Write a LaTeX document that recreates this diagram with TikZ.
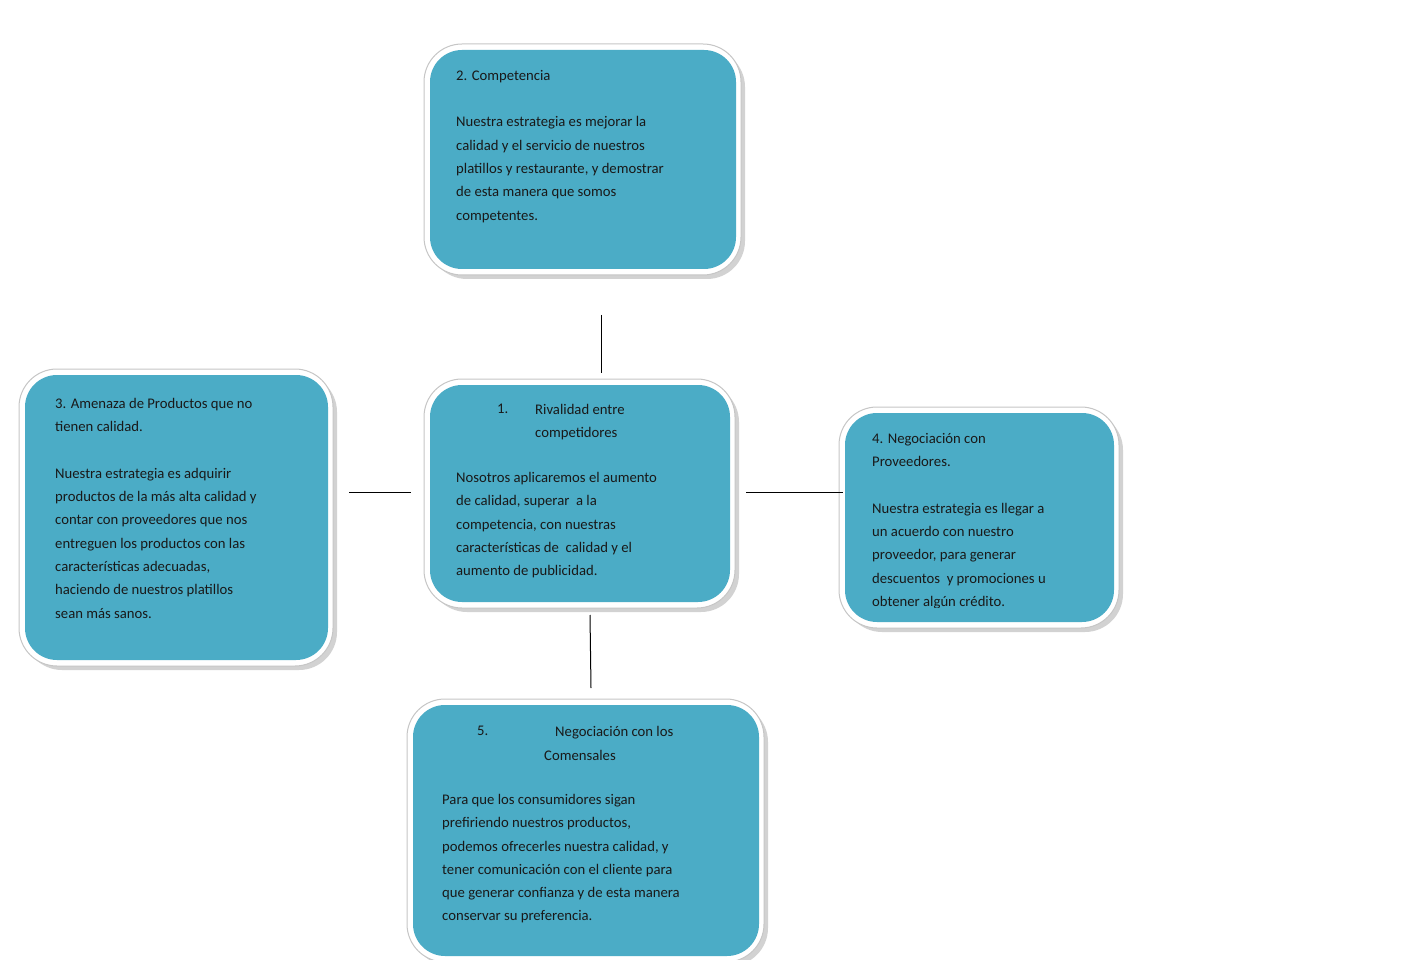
\documentclass[tikz,border=0pt]{standalone}
\usepackage{fontspec}
\setmainfont{Carlito}
\begin{document}
\begin{tikzpicture}[x=1pt,y=-1pt,
  frame/.style={draw=gray!45,line width=1pt,fill=white,rounded corners=38pt},
  shadow/.style={fill=gray!35,rounded corners=38pt},
  inner/.style={fill=teal0,rounded corners=32pt},
  txt/.style={anchor=north west,align=left,inner sep=0pt,font=\fontsize{14.7}{23.3}\selectfont,text=black!90},
  conn/.style={line width=1pt,black}]
\definecolor{teal0}{HTML}{4BACC6}
\useasboundingbox (0,0) rectangle (1428,960);
% box 2
\fill[shadow] (429,49) rectangle (745,279);
\draw[frame] (424,44) rectangle (741,275);
\fill[inner] (430,50) rectangle (736,269);
\node[txt] (t2) at (456,70) {2. Competencia\\[23.3pt]Nuestra estrategia es mejorar la\\calidad y el servicio de nuestros\\platillos y restaurante, y demostrar\\de esta manera que somos\\competentes.};
% box 1
\fill[shadow] (429,384) rectangle (739,612);
\draw[frame] (424,379) rectangle (735,608);
\fill[inner] (430,385) rectangle (730,602);
\node[txt] (t1a) at (497,404) {1.};
\node[txt] (t1b) at (535,404) {Rivalidad entre\\competidores};
\node[txt] (t1) at (456,472) {Nosotros aplicaremos el aumento\\de calidad, superar\ \ a la\\competencia, con nuestras\\características de\ \ calidad y el\\aumento de publicidad.};
% box 3
\fill[shadow] (24,374) rectangle (337,670);
\draw[frame] (19,369) rectangle (333,666);
\fill[inner] (25,375) rectangle (328,660);
\node[txt] (t3) at (55,398) {3. Amenaza de Productos que no\\tienen calidad.\\[23.3pt]Nuestra estrategia es adquirir\\productos de la más alta calidad y\\contar con proveedores que nos\\entreguen los productos con las\\características adecuadas,\\haciendo de nuestros platillos\\sean más sanos.};
% box 4
\fill[shadow] (844,412) rectangle (1123,632);
\draw[frame] (839,407) rectangle (1119,628);
\fill[inner] (845,413) rectangle (1114,622);
\begin{scope}
\clip (845,413) rectangle (1114,607);
\node[txt] (t4) at (872,433) {4. Negociación con\\Proveedores.\\[23.3pt]Nuestra estrategia es llegar a\\un acuerdo con nuestro\\proveedor, para generar\\descuentos\ \ y promociones u\\obtener algún crédito.};
\end{scope}
% box 5
\fill[shadow] (412,704) rectangle (768,966);
\draw[frame] (407,699) rectangle (764,962);
\fill[inner] (413,705) rectangle (759,956);
\node[txt] (t5a) at (477,726) {5.};
\node[txt] (t5b) at (555,726) {Negociación con los};
\node[txt] (t5c) at (544,750) {Comensales};
\node[txt] (t5) at (442,794) {Para que los consumidores sigan\\prefiriendo nuestros productos,\\podemos ofrecerles nuestra calidad, y\\tener comunicación con el cliente para\\que generar confianza y de esta manera\\conservar su preferencia.};
% connectors
\coordinate (a1) at (601,315); \coordinate (a2) at (601,373);
\coordinate (b1) at (349,492); \coordinate (b2) at (411,492);
\coordinate (c1) at (746,492); \coordinate (c2) at (843,492);
\coordinate (d1) at (590,615); \coordinate (d2) at (591,688);
\draw[conn] (a1)--(a2); \draw[conn] (b1)--(b2);
\draw[conn] (c1)--(c2); \draw[conn] (d1)--(d2);
\end{tikzpicture}
\end{document}
